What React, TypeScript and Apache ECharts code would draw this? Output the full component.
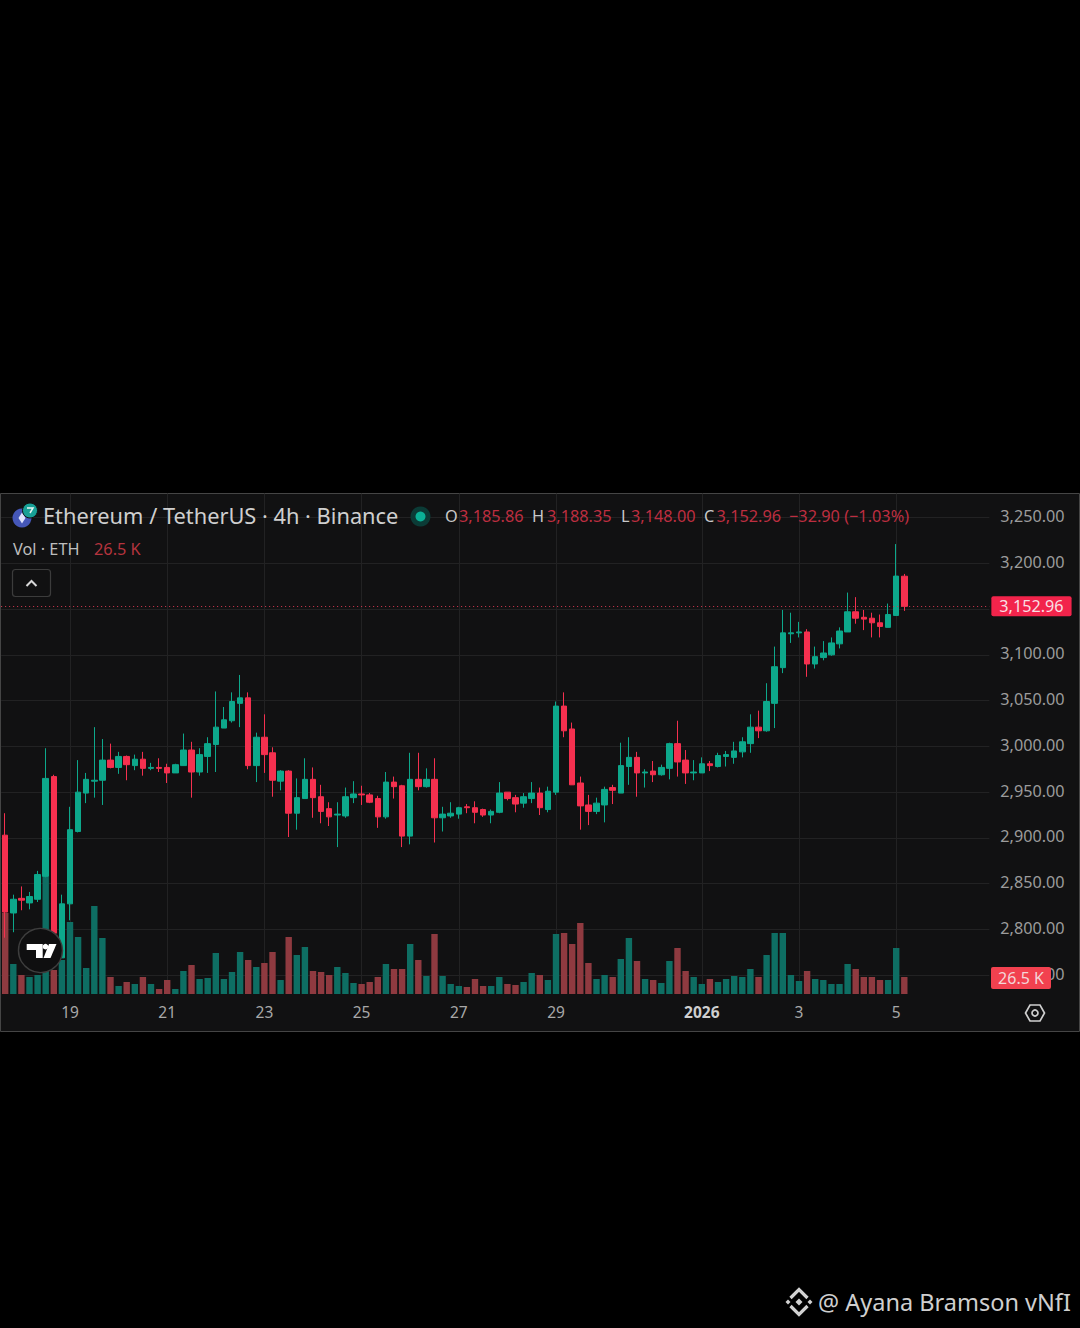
import React, { useEffect, useRef } from "react";
import * as echarts from "echarts";

const opens = [
  2903, 2818, 2834, 2829, 2833, 2858, 2967, 2769, 2828, 2907,
  2949, 2962, 2963, 2985, 2977, 2989, 2979, 2986, 2976, 2977,
  2977, 2971, 2979, 2996, 2972, 2989, 3002, 3020, 3028, 3047,
  3053, 2979, 3010, 2993, 2962, 2973, 2927, 2943, 2964, 2945,
  2932, 2925, 2924, 2944, 2948, 2947, 2943, 2923, 2961, 2957,
  2902, 2964, 2956, 2964, 2922, 2924, 2926, 2934, 2933, 2931,
  2925, 2928, 2950, 2944, 2938, 2943, 2949, 2931, 2950, 3044,
  3019, 2960, 2936, 2929, 2936, 2955, 2949, 2978, 2988, 2971,
  2973, 2969, 2976, 3003, 2985, 2971, 2971, 2981, 2978, 2989,
  2988, 2994, 3003, 3021, 3017, 3047, 3086, 3123, 3124, 3125,
  3090, 3097, 3100, 3112, 3125, 3147, 3141, 3140, 3135, 3130,
  3143, 3185.86,
];
const closes = [
  2819, 2833, 2832, 2836, 2860, 2965, 2796, 2828, 2909, 2950,
  2964, 2963, 2985, 2977, 2989, 2980, 2986, 2976, 2977, 2976,
  2971, 2980, 2996, 2972, 2991, 3003, 3021, 3029, 3049, 3053,
  2979, 3010, 2991, 2963, 2973, 2927, 2944, 2964, 2944, 2929,
  2923, 2926, 2945, 2948, 2947, 2939, 2923, 2961, 2956, 2902,
  2964, 2956, 2964, 2922, 2926, 2927, 2933, 2933, 2928, 2925,
  2929, 2949, 2943, 2937, 2945, 2949, 2933, 2951, 3044, 3017,
  2958, 2935, 2929, 2938, 2953, 2952, 2979, 2988, 2971, 2972,
  2969, 2977, 3003, 2983, 2971, 2972, 2981, 2979, 2990, 2991,
  2995, 3005, 3021, 3017, 3049, 3087, 3124, 3124, 3125, 3090,
  3098, 3102, 3113, 3126, 3147, 3140, 3139, 3135, 3131, 3144,
  3186, 3152.96,
];
const lows = [
  2791, 2797, 2821, 2822, 2830, 2857, 2795, 2769, 2810, 2906,
  2938, 2944, 2936, 2976, 2970, 2963, 2974, 2968, 2974, 2972,
  2960, 2971, 2979, 2944, 2968, 2971, 2972, 3020, 3026, 3021,
  2975, 2961, 2971, 2945, 2952, 2901, 2909, 2943, 2922, 2916,
  2913, 2890, 2922, 2938, 2936, 2938, 2911, 2921, 2943, 2890,
  2893, 2952, 2955, 2895, 2907, 2922, 2921, 2927, 2916, 2923,
  2916, 2927, 2941, 2928, 2933, 2938, 2925, 2928, 2947, 3010,
  2958, 2909, 2914, 2926, 2917, 2937, 2949, 2958, 2945, 2955,
  2961, 2968, 2964, 2967, 2959, 2963, 2971, 2973, 2977, 2978,
  2981, 2988, 2993, 3009, 3016, 3020, 3080, 3113, 3119, 3076,
  3085, 3094, 3099, 3107, 3125, 3134, 3127, 3119, 3119, 3130,
  3143, 3148,
];
const highs = [
  2927, 2838, 2847, 2841, 2864, 2998, 2969, 2838, 2934, 2985,
  2971, 3021, 3008, 3003, 2994, 2990, 2991, 2994, 2982, 2987,
  2981, 2981, 3014, 3005, 2998, 3010, 3060, 3043, 3059, 3078,
  3059, 3015, 3035, 2999, 2974, 2974, 2965, 2987, 2977, 2958,
  2939, 2939, 2955, 2962, 2957, 2949, 2946, 2972, 2967, 2958,
  2993, 2993, 2976, 2987, 2934, 2939, 2934, 2937, 2940, 2932,
  2931, 2961, 2950, 2947, 2949, 2961, 2955, 2956, 3049, 3059,
  3026, 2967, 2947, 2944, 2956, 2958, 3004, 3010, 2994, 2975,
  2984, 2980, 3004, 3028, 2996, 2985, 2988, 2984, 2993, 2995,
  3005, 3010, 3035, 3039, 3069, 3109, 3149, 3146, 3136, 3128,
  3109, 3115, 3119, 3130, 3168, 3163, 3149, 3146, 3144, 3156,
  3221, 3188.35,
];
const volumes = [
  126.4, 46.8, 29.6, 26.5, 29.6, 182.5, 37.4, 53, 112.3, 88.9,
  40.6, 137.3, 87.4, 26.5, 12.5, 18.7, 15.6, 26.5, 15.6, 7.8,
  21.8, 7.8, 35.9, 45.2, 23.4, 25, 64, 23.4, 34.3, 65.5,
  53, 42.1, 48.4, 65.5, 21.8, 88.9, 60.8, 73.3, 35.9, 34.3,
  29.6, 42.1, 32.8, 17.2, 15.6, 18.7, 26.5, 46.8, 39, 39,
  78, 53, 28.1, 93.6, 28.1, 15.6, 12.5, 10.9, 23.4, 12.5,
  12.5, 26.5, 15.6, 14, 18.7, 32.8, 29.6, 21.8, 93.6, 95.2,
  78, 110.8, 48.4, 23.4, 29.6, 26.5, 54.6, 87.4, 51.5, 23.4,
  21.8, 17.2, 51.5, 71.8, 35.9, 26.5, 15.6, 23.4, 18.7, 23.4,
  28.1, 26.5, 39, 26.5, 60.8, 95.2, 95.2, 29.6, 20.3, 35.9,
  23.4, 21.8, 15.6, 15.6, 46.8, 39, 26.5, 26.5, 21.8, 21.8,
  71.8, 26.5,
];
const BAR_SLOTS = 122;
const tickIndexes = [8, 20, 32, 44, 56, 68, 86, 98, 110];
const tickLabels = ["19", "21", "23", "25", "27", "29", "2026", "3", "5"];
const lastPrice = 3152.96;
const hiddenPriceTick = 3150;
const title = "Ethereum / TetherUS · 4h · Binance";
const ohlcLetters = ["O", "H", "L", "C"];
const ohlcValues = ["3,185.86", "3,188.35", "3,148.00", "3,152.96"];
const changeText = "−32.90 (−1.03%)";
const volName = "Vol · ETH";
const volValue = "26.5 K";
const watermark = "@ Ayana Bramson vNfI";

const UP = "#0da88b";
const DOWN = "#f5304f";
const UP_VOL = "#0e6e63";
const DOWN_VOL = "#8f3a40";
const GRID = "#222223";
const PANEL = "#111112";
const FONT = '"Noto Sans", sans-serif';

const txt = (text: string, x: number, y: number, size: number, fill: string, extra: any = {}) => ({
  type: "text",
  z: 100,
  silent: true,
  x,
  y,
  style: { text, fill, font: `${extra.weight || "normal"} ${size}px ${FONT}`, align: extra.align || "left", verticalAlign: "middle" },
});
const shape = (type: string, s: any, style: any) => ({ type, z: 100, silent: true, shape: s, style });

export default function App() {
  const ref = useRef<HTMLDivElement>(null);
  useEffect(() => {
    document.body.style.margin = "0";
    document.body.style.background = "#000";
    const chart = echarts.init(ref.current!, undefined, { renderer: "svg" });
    const categories = Array.from({ length: BAR_SLOTS }, (_, i) => String(i));
    const isTick = (i: number) => tickIndexes.includes(i);
    const ohlcX = [445, 532, 621, 704];
    const valX = [459, 547, 631, 716.5];
    const red = "#bd2e40";
    const graphics: any[] = [
      { type: "rect", z: -1, silent: true, shape: { x: 0.5, y: 493.5, width: 1079, height: 538 }, style: { fill: PANEL, stroke: "#454545", lineWidth: 1 } },
      // symbol icon
      shape("circle", { cx: 22, cy: 518, r: 9.5 }, { fill: "#4557b8" }),
      shape("polygon", { points: [[22, 512.5], [25.5, 518], [22, 523.5], [18.5, 518]] }, { fill: "#dfe4ff" }),
      shape("circle", { cx: 30, cy: 510.5, r: 7.5 }, { fill: "#17a096", stroke: PANEL, lineWidth: 1 }),
      shape("polyline", { points: [[27, 508], [33, 508], [30, 513]] }, { stroke: "#e8f5f3", lineWidth: 1.5, fill: "none" }),
      txt(title, 43, 515.5, 21.8, "#cfcfcf"),
      shape("circle", { cx: 420.5, cy: 516.5, r: 10 }, { fill: "#0b3b36" }),
      shape("circle", { cx: 420.5, cy: 516.5, r: 5 }, { fill: "#0bb096" }),
      ...ohlcLetters.map((l, i) => txt(l, ohlcX[i], 516, 16.3, "#c8c8c8")),
      ...ohlcValues.map((v, i) => txt(v, valX[i], 516, 16.3, red)),
      txt(changeText, 789, 516, 16.3, red),
      txt(volName, 13, 548.5, 16.3, "#bdbdbd"),
      txt(volValue, 94, 548.5, 16.3, "#b5343e"),
      { type: "rect", z: 100, silent: true, shape: { x: 12.5, y: 569.5, width: 38, height: 27, r: 3 }, style: { fill: "none", stroke: "#3c3c3c", lineWidth: 1.2 } },
      shape("polyline", { points: [[26.5, 586], [31.5, 581], [36.5, 586]] }, { stroke: "#d8d8d8", lineWidth: 2, fill: "none" }),
      // TradingView badge
      shape("circle", { cx: 40.5, cy: 950.5, r: 22 }, { fill: "#0f0f10", stroke: "#3e3e3e", lineWidth: 1.5 }),
      shape("polygon", { points: [[26.7, 944], [42.7, 944], [42.7, 958], [36, 958], [36, 950], [26.7, 950]] }, { fill: "#fff" }),
      shape("circle", { cx: 45.5, cy: 946.7, r: 2.8 }, { fill: "#fff" }),
      shape("polygon", { points: [[49, 944], [56.5, 944], [50.5, 958], [43.5, 958]] }, { fill: "#fff" }),
      // last-volume tag covers the 2,750 label
      { type: "rect", z: 100, silent: true, shape: { x: 991, y: 967, width: 60, height: 22, r: 2 }, style: { fill: "#f2414f" } },
      txt(volValue, 1021, 978, 16, "#f4d6d8", { align: "center" }),
      // settings hexagon
      shape("polygon", { points: [[1030, 1005], [1040, 1005], [1044.5, 1013], [1040, 1021], [1030, 1021], [1025.5, 1013]] }, { fill: "none", stroke: "#cfcfcf", lineWidth: 1.7 }),
      shape("circle", { cx: 1035, cy: 1013, r: 3 }, { fill: "none", stroke: "#cfcfcf", lineWidth: 1.7 }),
      // watermark
      shape("polyline", { points: [[790.5, 1298], [799, 1289.5], [807.5, 1298]] }, { stroke: "#d2d2d2", lineWidth: 3.2, fill: "none" }),
      shape("polyline", { points: [[790.5, 1306], [799, 1314.5], [807.5, 1306]] }, { stroke: "#d2d2d2", lineWidth: 3.2, fill: "none" }),
      shape("polygon", { points: [[799, 1298.5], [802.5, 1302], [799, 1305.5], [795.5, 1302]] }, { fill: "#d2d2d2" }),
      shape("polygon", { points: [[788, 1299.5], [790.5, 1302], [788, 1304.5], [785.5, 1302]] }, { fill: "#d2d2d2" }),
      shape("polygon", { points: [[810, 1299.5], [812.5, 1302], [810, 1304.5], [807.5, 1302]] }, { fill: "#d2d2d2" }),
      txt(watermark, 818, 1301.5, 23.5, "#cfcfcf"),
    ];
    chart.setOption({
      animation: false,
      backgroundColor: "#000",
      textStyle: { fontFamily: FONT },
      grid: [
        { left: 1.15, width: 988.2, top: 493.5, height: 500.5 },
        { left: 1.15, width: 988.2, top: 517.5, height: 457.75 },
        { left: 1.15, width: 988.2, top: 794, height: 200 },
      ],
      xAxis: [
        {
          gridIndex: 0,
          type: "category",
          data: categories,
          axisLine: { show: false },
          axisTick: { show: false },
          splitLine: { show: true, interval: (i: number) => isTick(i), alignWithLabel: true, lineStyle: { color: GRID, width: 1 } },
          axisLabel: {
            interval: (i: number) => isTick(i),
            margin: 10,
            color: "#a8a8a8",
            fontSize: 15.5,
            fontFamily: FONT,
            formatter: (_: string, i: number) => {
              const t = tickLabels[tickIndexes.indexOf(i)];
              return t === "2026" ? `{b|${t}}` : t;
            },
            rich: { b: { fontWeight: "bold", fontSize: 15.5, color: "#cfcfcf", fontFamily: FONT } },
          },
        },
        { gridIndex: 1, type: "category", data: categories, show: false },
        { gridIndex: 2, type: "category", data: categories, show: false },
      ],
      yAxis: [
        { gridIndex: 0, type: "value", min: 0, max: 1, show: false, splitLine: { show: false } },
        {
          gridIndex: 1,
          type: "value",
          position: "right",
          min: 2750,
          max: 3250,
          interval: 50,
          axisLine: { show: false },
          axisTick: { show: false },
          splitLine: { show: true, lineStyle: { color: GRID, width: 1 } },
          axisLabel: {
            margin: 11,
            verticalAlign: "bottom",
            lineHeight: 3,
            color: "#9c9c9c",
            fontSize: 16.2,
            fontFamily: FONT,
            formatter: (v: number) =>
              v === hiddenPriceTick ? "" : v.toLocaleString("en-US", { minimumFractionDigits: 2, maximumFractionDigits: 2 }),
          },
        },
        { gridIndex: 2, type: "value", min: 0, max: 312, show: false, splitLine: { show: false } },
      ],
      series: [
        {
          name: "Volume",
          type: "bar",
          xAxisIndex: 2,
          yAxisIndex: 2,
          barWidth: 6.4,
          z: 1,
          silent: true,
          data: volumes.map((v, i) => ({ value: v, itemStyle: { color: closes[i] >= opens[i] ? UP_VOL : DOWN_VOL } })),
        },
        {
          name: "ETHUSDT",
          type: "candlestick",
          xAxisIndex: 1,
          yAxisIndex: 1,
          barWidth: 6,
          z: 3,
          silent: true,
          itemStyle: { color: UP, color0: DOWN, borderColor: UP, borderColor0: DOWN, borderWidth: 1 },
          data: opens.map((o, i) => [o, closes[i], lows[i], highs[i]]),
          markLine: {
            silent: true,
            symbol: ["none", "none"],
            animation: false,
            precision: 2,
            lineStyle: { type: [1, 3], color: "#d83a52", width: 1 },
            label: {
              show: true,
              position: "end",
              distance: 2,
              formatter: "3,152.96",
              color: "#f9dfe3",
              fontSize: 16.2,
              fontFamily: FONT,
              backgroundColor: "#f2244b",
              borderRadius: 2,
              padding: [2, 8, 2, 8],
            },
            data: [{ yAxis: lastPrice }],
          },
        },
      ],
      graphic: { elements: graphics },
    });
    return () => chart.dispose();
  }, []);
  return <div ref={ref} style={{ position: "absolute", left: 0, top: 0, width: 1080, height: 1328 }} />;
}
